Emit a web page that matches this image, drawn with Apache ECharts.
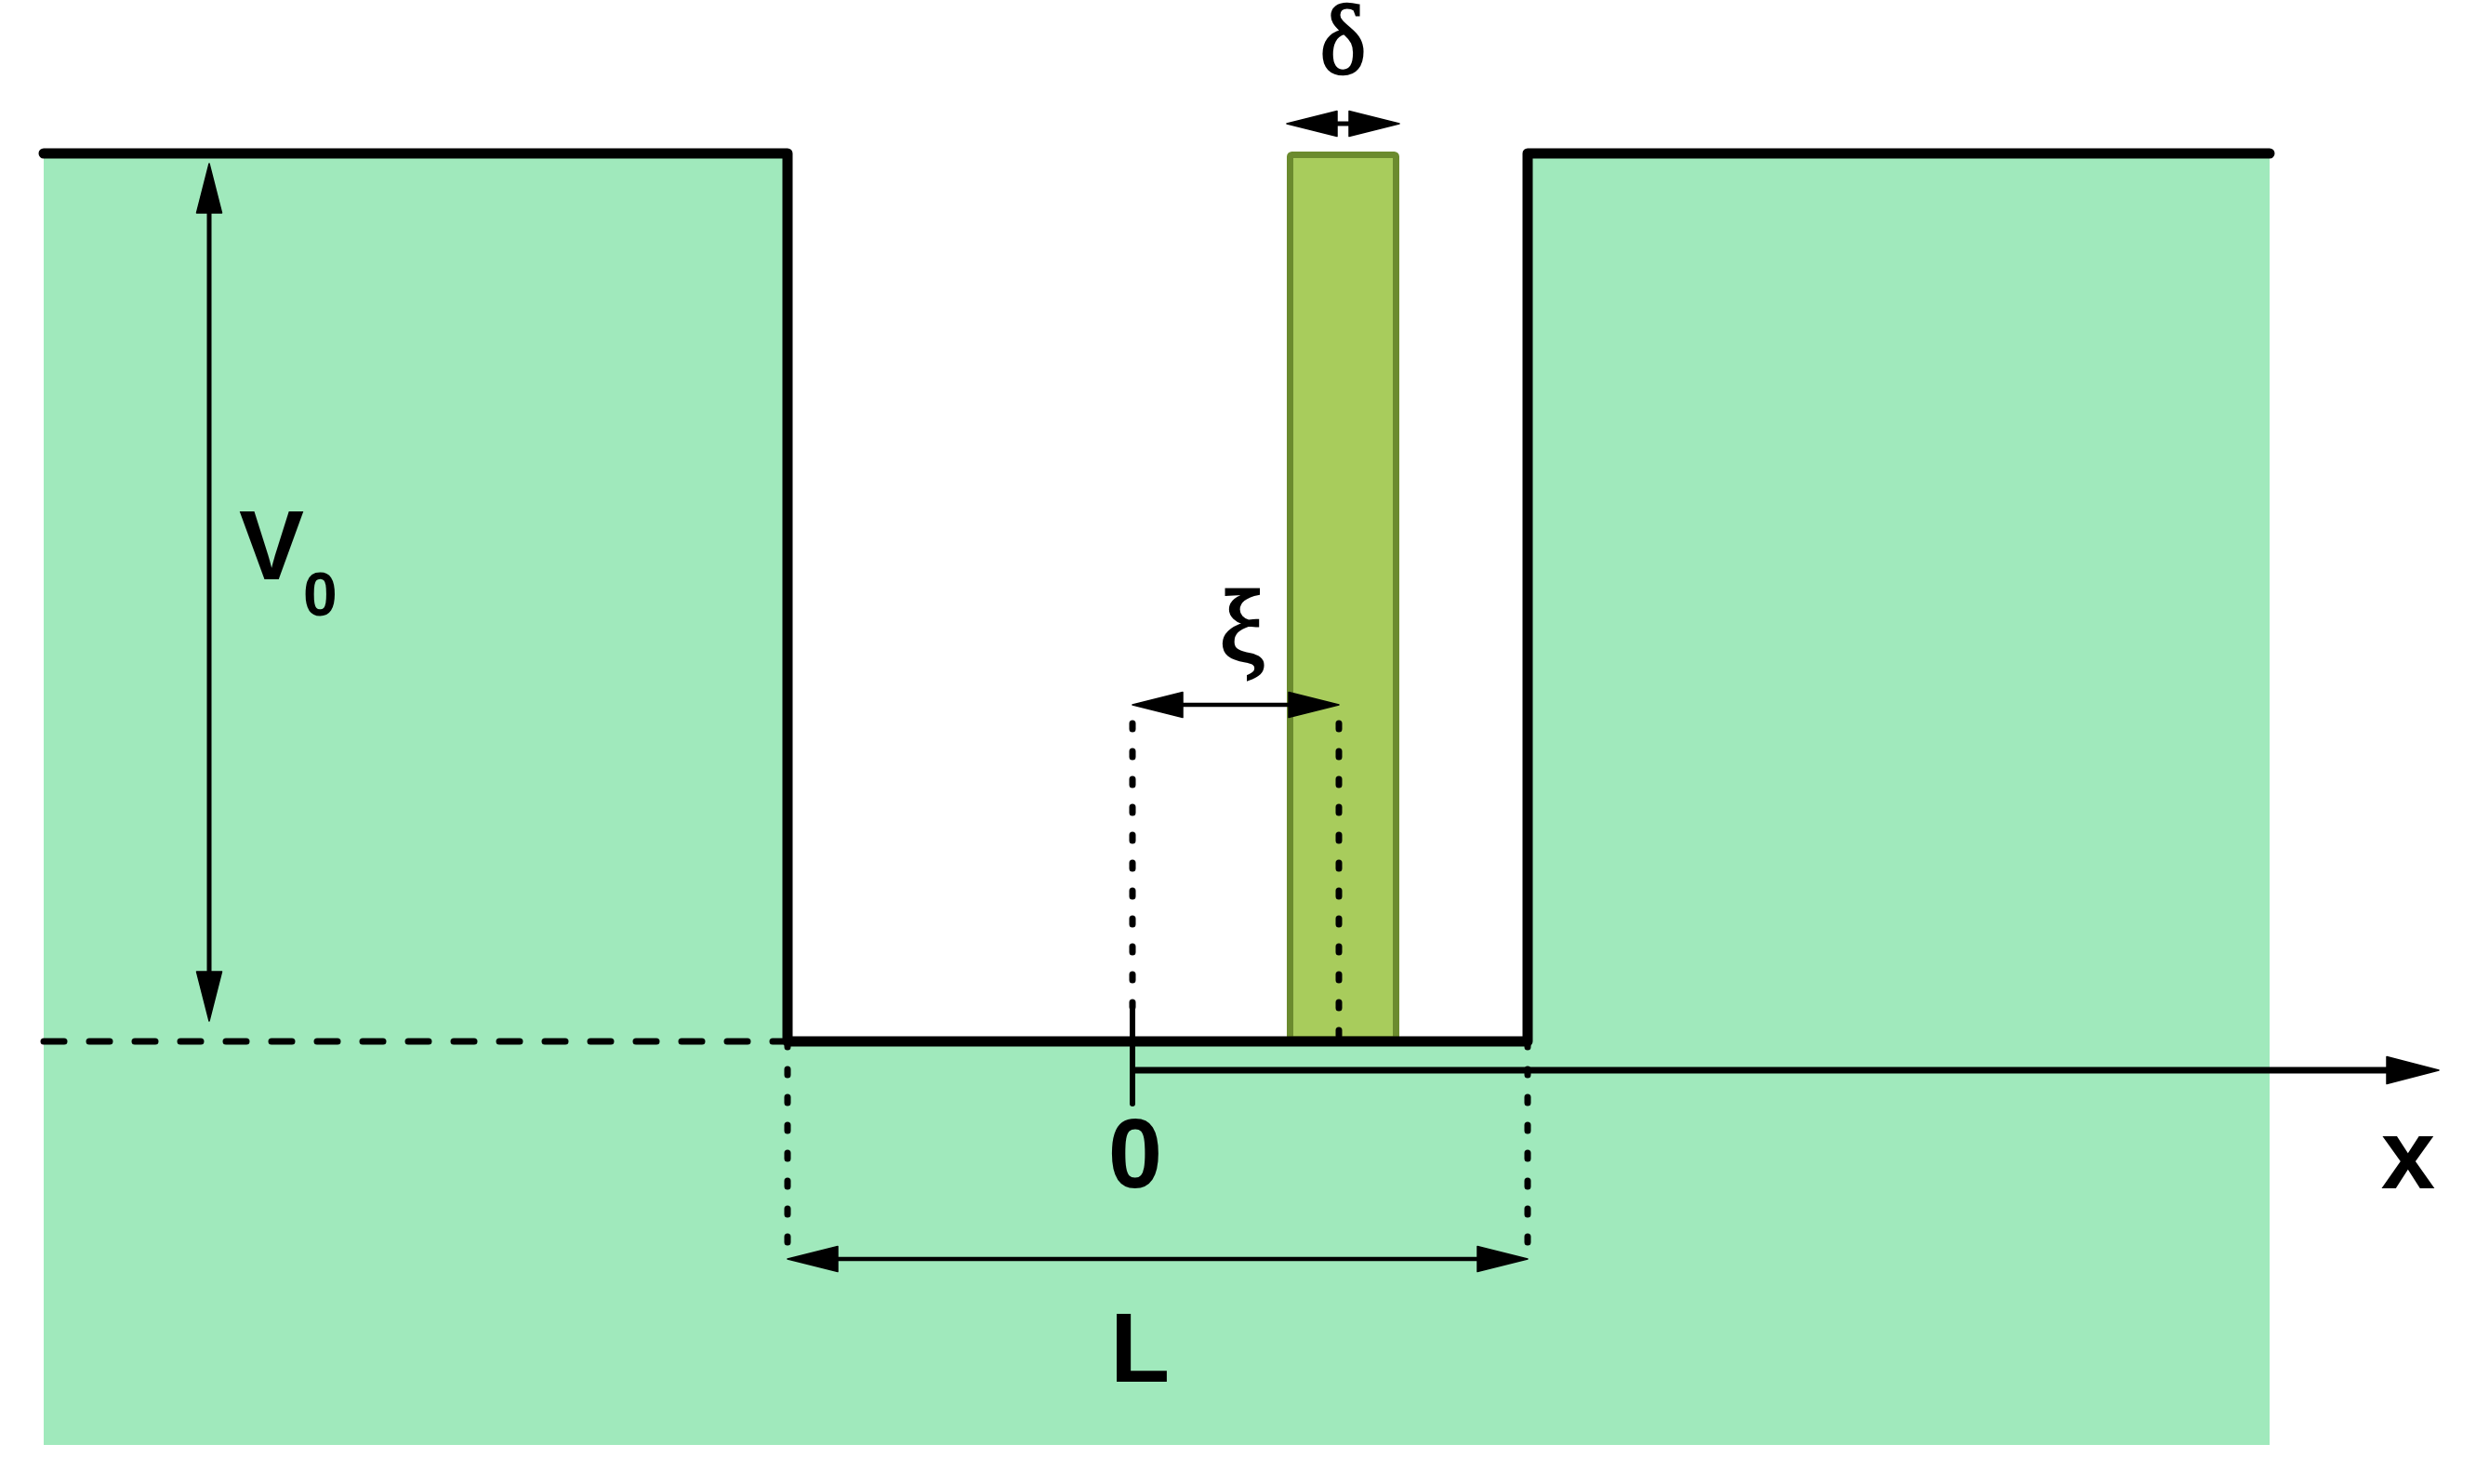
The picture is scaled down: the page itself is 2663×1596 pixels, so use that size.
<!DOCTYPE html>
<html><head><meta charset="utf-8">
<script src="https://cdn.jsdelivr.net/npm/echarts@6/dist/echarts.min.js"></script>
<style>html,body{margin:0;padding:0;background:#fff}#c{width:2663px;height:1596px}</style>
</head><body><div id="c"></div>
<script>
// ---- data (diagram units, origin at x = 0 on the well floor) ----
const V0 = 955;                       // height of the potential walls
const wellEdges = [-371, 425];        // the two walls, distance L apart
const outerEdges = [-1171, 1223];     // drawn extent of the potential
const floorLevel = -434;              // lower edge of the shaded region
const barrierEdges = [166, 287];      // thin barrier of width δ
const xi = 222;                       // barrier position ξ
const xAxisEnd = 1405;                // end of the x axis arrow
const potentialX = [outerEdges[0], wellEdges[0], wellEdges[0], wellEdges[1], wellEdges[1], outerEdges[1]];
const potentialY = [V0, V0, 0, 0, V0, V0];
const labelTexts = ['V', '0', 'δ', 'ξ', '0', 'x', 'L'];

// ---- drawing ----
const chart = echarts.init(document.getElementById('c'), null, {renderer: 'canvas', width: 2663, height: 1596});
const SANS = '"Liberation Sans", Arial, sans-serif';
const SERIF = '"Liberation Serif", "Times New Roman", serif';

function lineSeries(name, pts, style, z) {
  return {type: 'line', name, data: pts, symbol: 'none', silent: true, clip: false, z: z || 5,
    lineStyle: Object.assign({color: '#000'}, style)};
}
function segSeries(name, segs, style, z) {
  return {type: 'custom', name, coordinateSystem: 'cartesian2d', silent: true, z: z || 6,
    encode: {x: [0, 2], y: [1, 3]}, data: segs,
    renderItem(params, api) {
      const a = api.coord([api.value(0), api.value(1)]);
      const b = api.coord([api.value(2), api.value(3)]);
      return {type: 'line', shape: {x1: a[0], y1: a[1], x2: b[0], y2: b[1]},
        style: Object.assign({stroke: '#000'}, style)};
    }};
}
function arrowSeries(name, segs, o) {
  return {type: 'custom', name, coordinateSystem: 'cartesian2d', silent: true, z: 7,
    encode: {x: [0, 2], y: [1, 3]}, data: segs,
    renderItem(params, api) {
      const a = api.coord([api.value(0), api.value(1)]);
      const b = api.coord([api.value(2), api.value(3)]);
      const dx = b[0] - a[0], dy = b[1] - a[1], len = Math.hypot(dx, dy);
      const ux = dx / len, uy = dy / len, nx = -uy, ny = ux;
      const head = (tip, d) => {
        const bx = tip[0] - d[0] * o.headLen, by = tip[1] - d[1] * o.headLen;
        return {type: 'polygon', shape: {points: [tip, [bx + nx * o.headHalf, by + ny * o.headHalf], [bx - nx * o.headHalf, by - ny * o.headHalf]]},
          style: {fill: '#000', stroke: '#000', lineWidth: 1.5, lineJoin: 'round'}};
      };
      const children = [];
      let s = a, e = b;
      if (o.start) { s = [a[0] + ux * (o.headLen - 2), a[1] + uy * (o.headLen - 2)]; children.push(head(a, [-ux, -uy])); }
      if (o.end) { e = [b[0] - ux * (o.headLen - 2), b[1] - uy * (o.headLen - 2)]; children.push(head(b, [ux, uy])); }
      children.unshift({type: 'line', shape: {x1: s[0], y1: s[1], x2: e[0], y2: e[1]},
        style: {stroke: '#000', lineWidth: o.width, lineCap: 'butt'}});
      return {type: 'group', children};
    }};
}
function textSeries(name, items, fonts, aligns, strokes) {
  return {type: 'custom', name, coordinateSystem: 'cartesian2d', silent: true, z: 8,
    encode: {x: 0, y: 1}, data: items,
    renderItem(params, api) {
      const p = api.coord([api.value(0), api.value(1)]);
      const i = params.dataIndex;
      return {type: 'text', x: p[0], y: p[1],
        style: {text: labelTexts[api.value(2)], font: fonts[i], fill: '#000',
          stroke: strokes[i] ? '#000' : null, lineWidth: strokes[i],
          align: aligns[i], textAlign: aligns[i], verticalAlign: 'middle', textVerticalAlign: 'middle'}};
    }};
}

const option = {
  animation: false,
  backgroundColor: '#ffffff',
  grid: {left: 0, right: 0, top: 0, bottom: 42},
  xAxis: {type: 'value', min: -1218, max: 1445, show: false},
  yAxis: {type: 'value', min: floorLevel, max: 1120, show: false},
  series: [
    // shaded potential
    {type: 'line', name: 'potential', data: potentialX.map((x, i) => [x, potentialY[i]]),
      symbol: 'none', silent: true, clip: false, z: 2,
      lineStyle: {width: 0, opacity: 0},
      areaStyle: {color: '#a0e9bc', opacity: 1, origin: 'start'}},
    // barrier δ
    {type: 'custom', name: 'barrier', coordinateSystem: 'cartesian2d', silent: true, z: 3,
      encode: {x: [0, 1], y: 2}, data: [[barrierEdges[0], barrierEdges[1], V0]],
      renderItem(params, api) {
        const p0 = api.coord([api.value(0), api.value(2)]);
        const p1 = api.coord([api.value(1), 0]);
        const lw = 7;
        return {type: 'rect', shape: {x: p0[0] + lw / 2, y: p0[1] + lw / 2 - 2, width: p1[0] - p0[0] - lw, height: p1[1] - p0[1] - lw / 2, r: 2},
          style: {fill: '#a8cc5c', stroke: '#6b8b2e', lineWidth: lw, lineJoin: 'round'}};
      }},
    lineSeries('outline', potentialX.map((x, i) => [x, potentialY[i]]), {width: 11, cap: 'round', join: 'round'}, 4),
    lineSeries('floor', [[outerEdges[0], 0], [wellEdges[0], 0]], {width: 7, cap: 'round', type: [22, 27]}, 4),
    // dotted guide lines
    lineSeries('xiLeft', [[0, 362], [0, 37]], {width: 7, cap: 'round', type: [6, 24], dashOffset: 10}, 5),
    lineSeries('xiRight', [[xi, 362], [xi, 0]], {width: 7, cap: 'round', type: [6, 24], dashOffset: 10}, 5),
    lineSeries('LLeft', [[wellEdges[0], 0], [wellEdges[0], -234]], {width: 7, cap: 'round', type: [6, 24]}, 5),
    lineSeries('LRight', [[wellEdges[1], 0], [wellEdges[1], -234]], {width: 7, cap: 'round', type: [6, 24]}, 5),
    // origin tick
    segSeries('tick', [[0, 37, 0, -67]], {lineWidth: 6, lineCap: 'round'}, 6),
    // arrows
    arrowSeries('V0arrow', [[-993, 22, -993, 944]], {start: true, end: true, width: 5, headLen: 53, headHalf: 13.5}),
    arrowSeries('deltaArrow', [[barrierEdges[0], 987, barrierEdges[1], 987]], {start: true, end: true, width: 5, headLen: 54, headHalf: 13.5}),
    arrowSeries('xiArrow', [[0, 362, xi, 362]], {start: true, end: true, width: 4.5, headLen: 54, headHalf: 13.5}),
    arrowSeries('LArrow', [[wellEdges[0], -234, wellEdges[1], -234]], {start: true, end: true, width: 4.5, headLen: 54, headHalf: 13.5}),
    arrowSeries('xAxis', [[0, -31, xAxisEnd, -31]], {start: false, end: true, width: 7, headLen: 56, headHalf: 14.5}),
    // labels
    textSeries('labels', [[-961, 526, 0], [-892, 476, 1], [226.5, 1069, 2], [118, 438, 3], [3, -128, 4], [1372, -129, 5], [8, -337, 6]],
      ['bold 105px ' + SANS, 'bold 66px ' + SANS, '105px ' + SERIF, '110px ' + SERIF, 'bold 105px ' + SANS, 'bold 105px ' + SANS, 'bold 105px ' + SANS],
      ['left', 'left', 'center', 'center', 'center', 'center', 'center'],
      [0, 0, 2.5, 3, 0, 0, 0])
  ]
};
chart.setOption(option);
</script>
</body></html>
